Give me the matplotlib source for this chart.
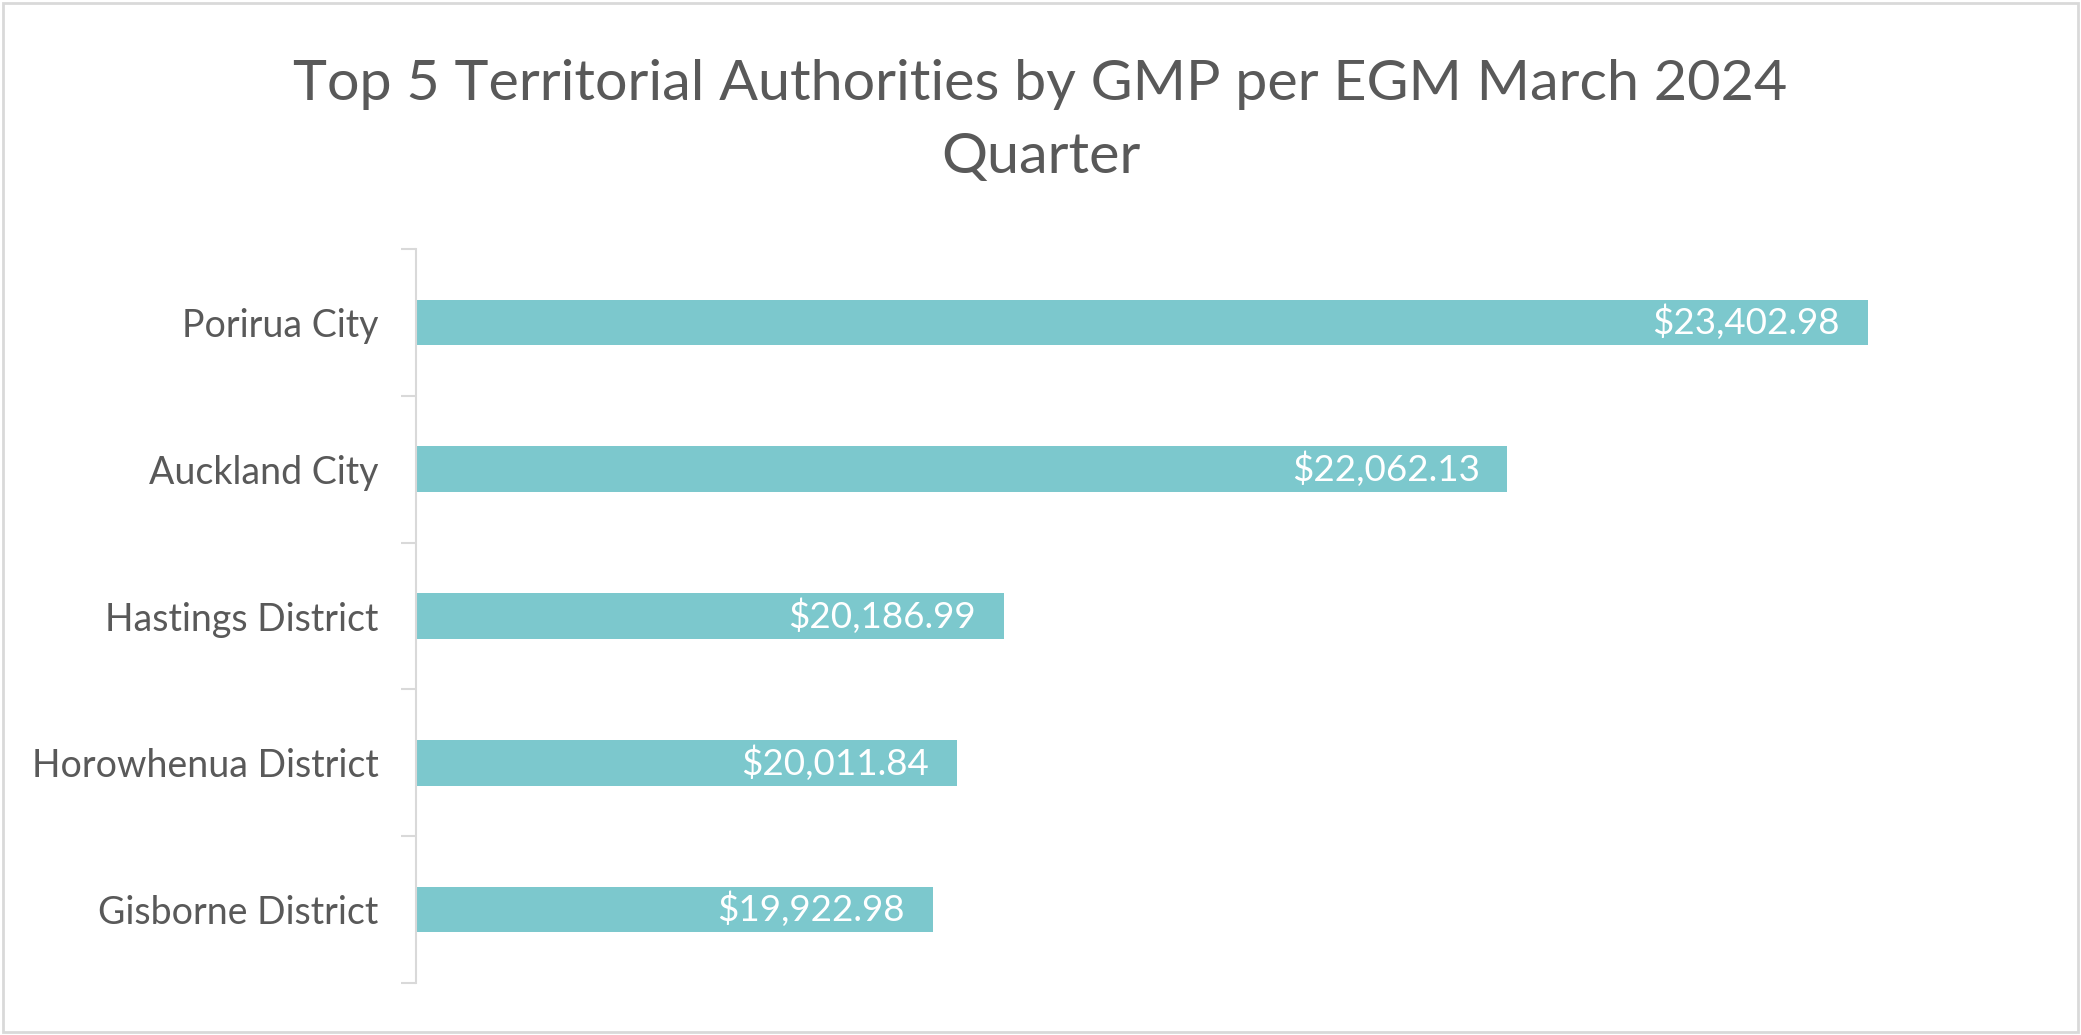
import matplotlib
matplotlib.use("Agg")
import matplotlib.pyplot as plt
from matplotlib.patches import Rectangle

# Chart data
authorities = ["Porirua City", "Auckland City", "Hastings District",
               "Horowhenua District", "Gisborne District"]
gmp_per_egm = [23402.98, 22062.13, 20186.99, 20011.84, 19922.98]
title_text = "Top 5 Territorial Authorities by GMP per EGM March 2024\nQuarter"

TEXT_COLOR = "#595959"
BAR_COLOR = "#7CC8CD"
LINE_COLOR = "#D9D9D9"

plt.rcParams['font.family'] = ['Lato', 'DejaVu Sans']

fig = plt.figure(figsize=(20.81, 10.35), dpi=100)
ax = fig.add_axes([0.2, 0.0502, 0.7745, 0.7092])

positions = list(range(len(authorities)))
ax.barh(positions, gmp_per_egm, height=0.31, color=BAR_COLOR,
        left=0, zorder=2)
ax.set_xlim(18000, 24000)
ax.set_ylim(len(authorities) - 0.5, -0.5)

# Value labels inside the end of each bar
for pos, val in zip(positions, gmp_per_egm):
    ax.annotate(f"${val:,.2f}", xy=(val, pos), xytext=(-20, 0),
                textcoords="offset points", ha="right", va="center",
                color="white", fontsize=26.5)

# Category labels, with tick marks between the categories
ax.set_yticks(positions)
ax.set_yticklabels(authorities, fontsize=27, color=TEXT_COLOR)
ax.tick_params(axis="y", which="major", length=0, pad=27)
ax.set_yticks([p - 0.5 for p in positions] + [len(authorities) - 0.5],
              minor=True)
ax.tick_params(axis="y", which="minor", length=11, width=1.5,
               color=LINE_COLOR)
ax.set_xticks([])

for side in ["top", "right", "bottom"]:
    ax.spines[side].set_visible(False)
ax.spines["left"].set_color(LINE_COLOR)
ax.spines["left"].set_linewidth(1.5)

fig.text(0.5, 0.883, title_text, ha="center", va="center",
         fontsize=41.4, color=TEXT_COLOR, linespacing=1.53)

# Chart border
fig.patches.append(Rectangle((0.0015, 0.003), 0.997, 0.994,
                             transform=fig.transFigure, fill=False,
                             edgecolor=LINE_COLOR, linewidth=2))

fig.savefig("out.png", dpi=100)
